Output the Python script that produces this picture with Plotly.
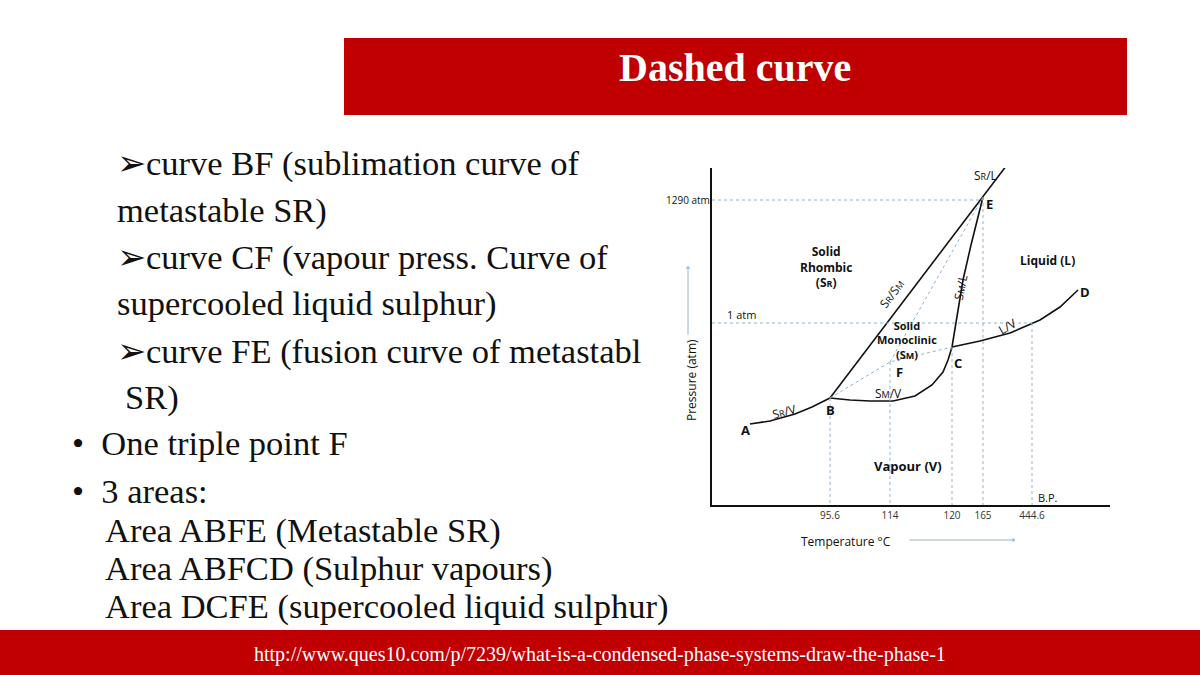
import plotly.graph_objects as go

W, H = 1200, 675
# Diagram coordinates (schematic units, y grows downward)
A = (750, 424); B = (830, 398); C = (952, 347); D = (1078, 290)
E = (983, 197); G = (1013, 157); F = (890, 362)
AB_x = [750, 770, 795, 812, 830]; AB_y = [424, 421, 414, 407, 398]
BC_x = [830, 850, 870, 893, 915, 932, 943, 948, 952]; BC_y = [398, 400, 401, 401, 396, 385, 372, 360, 347]
CE_x = [952, 957, 963, 971, 983]; CE_y = [347, 315, 280, 245, 197]
CD_x = [952, 980, 1010, 1040, 1060, 1078]; CD_y = [347, 341, 333, 320, 307, 290]
tick_pos = [830, 890, 952, 983, 1032]
tick_text = ["95.6", "114", "120", "165", "444.6"]
p1290, p1atm, bp_x = 200, 323, 1032

fig = go.Figure()
solid = dict(color="#111", width=1.6)
dash = dict(color="#8fb4cf", width=1, dash="dot")
def line(xs, ys, st):
    fig.add_trace(go.Scatter(x=xs, y=ys, mode="lines", line=st, hoverinfo="skip", showlegend=False))

line(AB_x, AB_y, solid); line(BC_x, BC_y, solid); line(CE_x, CE_y, solid); line(CD_x, CD_y, solid)
line([B[0], E[0], G[0]], [B[1], E[1], G[1]], solid)
line([B[0], F[0], C[0]], [B[1], F[1], C[1]], dash)
line([F[0], E[0]], [F[1], E[1]], dash)
line([712, E[0]], [p1290, p1290], dash)
line([712, bp_x], [p1atm, p1atm], dash)
for x, y in [(B[0], B[1]), (F[0], F[1]), (C[0], C[1]), (E[0], E[1]), (bp_x, p1atm)]:
    line([x, x], [y, 505], dash)

ann = []
def t(x, y, s, size=12, bold=True, angle=0, ref="x", color="#111", font="Open Sans", xa="center"):
    if ref == "paper":
        xx, yy, xr, yr = x / W, 1 - y / H, "paper", "paper"
    else:
        xx, yy, xr, yr = x, y, "x", "y"
    ann.append(dict(x=xx, y=yy, xref=xr, yref=yr, text=(f"<b>{s}</b>" if bold else s), showarrow=False,
                    textangle=angle, xanchor=xa, yanchor="middle",
                    font=dict(size=size, color=color, family=font)))

sub = lambda s: f"<span style='font-size:9px'>{s}</span>"
t(1022, 160, "G", 13); t(989, 204, "E", 13); t(1085, 292, "D", 13); t(958, 363, "C", 13)
t(899, 372, "F", 13); t(830, 410, "B", 13); t(745, 430, "A", 13)
t(985, 175, "S" + sub("R") + "/L", 12, False)
t(826, 267, "Solid<br>Rhombic<br>(S" + sub("R") + ")", 12)
t(1047, 260, "Liquid (L)", 12)
t(891, 294, "S" + sub("R") + "/S" + sub("M"), 12, False, -53)
t(960, 288, "S" + sub("M") + "/L", 12, False, -78)
t(907, 340, "Solid<br>Monoclinic<br>(S" + sub("M") + ")", 11)
t(888, 393, "S" + sub("M") + "/V", 12, False)
t(784, 411, "S" + sub("R") + "/V", 12, False, -15)
t(1007, 326, "L/V", 12, False, -30)
t(908, 466, "Vapour (V)", 13)
t(1048, 497, "B.P.", 11, False)
t(741, 314, "1 atm", 11, False)
t(688, 200, "1290 atm", 10, False, ref="paper")
t(691, 380, "Pressure (atm)", 12, False, -90, ref="paper")
t(846, 541, "Temperature °C", 12, False, ref="paper")

# slide text
serif = "Liberation Serif"
lines = [(115, 163, "➢curve BF (sublimation curve of"), (115, 211, "metastable SR)"),
         (115, 257, "➢curve CF (vapour press. Curve of"), (115, 303, "supercooled liquid sulphur)"),
         (115, 351, "➢curve FE (fusion curve of metastabl"), (123, 397, "SR)"),
         (70, 443, "•  One triple point F"), (70, 491, "•  3 areas:"),
         (103, 530, "Area ABFE (Metastable SR)"), (103, 568, "Area ABFCD (Sulphur vapours)"),
         (103, 606, "Area DCFE (supercooled liquid sulphur)")]
for x, y, s in lines:
    t(x, y, s, 34.5, False, ref="paper", font=serif, xa="left")
t(735, 67, "Dashed curve", 40, True, ref="paper", color="white", font=serif)
t(600, 654, "http://www.ques10.com/p/7239/what-is-a-condensed-phase-systems-draw-the-phase-1", 20, False,
  ref="paper", color="white", font=serif)

shapes = [
    dict(type="rect", xref="paper", yref="paper", x0=344 / W, x1=1127 / W, y0=1 - 115 / H, y1=1 - 38 / H,
         fillcolor="#c00000", line_width=0, layer="below"),
    dict(type="rect", xref="paper", yref="paper", x0=0, x1=1, y0=0, y1=1 - 630 / H,
         fillcolor="#c00000", line_width=0, layer="below"),
]
ann.append(dict(x=688 / W, y=1 - 266 / H, ax=0, ay=70, xref="paper", yref="paper",
                showarrow=True, arrowhead=1, arrowsize=0.8, arrowwidth=1, arrowcolor="#8fb4cf", text=""))
ann.append(dict(x=1015 / W, y=1 - 540 / H, ax=-107, ay=0, xref="paper", yref="paper",
                showarrow=True, arrowhead=1, arrowsize=0.8, arrowwidth=1, arrowcolor="#8fb4cf", text=""))

fig.update_layout(
    width=W, height=H, margin=dict(l=0, r=0, t=0, b=0), paper_bgcolor="white", plot_bgcolor="white",
    xaxis=dict(domain=[712 / W, 1110 / W], range=[712, 1110], showgrid=False, zeroline=False,
               showline=True, linecolor="#111", linewidth=1.5, tickvals=tick_pos, ticktext=tick_text,
               ticks="", tickfont=dict(size=10, family="Open Sans", color="#333")),
    yaxis=dict(domain=[1 - 505 / H, 1 - 168 / H], range=[505, 168], showgrid=False, zeroline=False,
               showline=True, linecolor="#111", linewidth=1.5, showticklabels=False, ticks=""),
    annotations=ann, shapes=shapes,
)
fig.write_html("out.html", config={"displayModeBar": False})
with open("out.html") as f:
    html = f.read()
html = html.replace("<head>", "<head><style>html,body{margin:0;padding:0;overflow:hidden}</style>", 1)
with open("out.html", "w") as f:
    f.write(html)
